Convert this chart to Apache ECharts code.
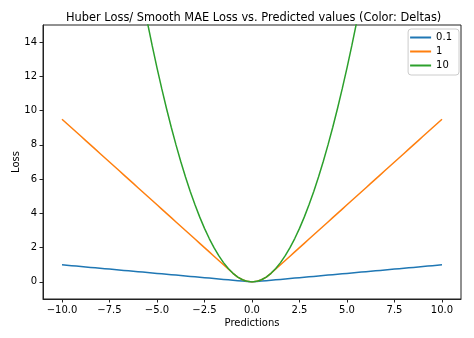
<!DOCTYPE html>
<html><head><meta charset="utf-8">
<script src="https://cdn.jsdelivr.net/npm/echarts@6/dist/echarts.min.js"></script>
<style>html,body{margin:0;padding:0;background:#fff}#c{width:474px;height:338px}</style>
</head><body><div id="c"></div>
<script>
const predictions = [-10,-9.75,-9.5,-9.25,-9,-8.75,-8.5,-8.25,-8,-7.75,-7.5,-7.25,-7,-6.75,-6.5,-6.25,-6,-5.75,-5.5,-5.25,-5,-4.75,-4.5,-4.25,-4,-3.75,-3.5,-3.25,-3,-2.75,-2.5,-2.25,-2,-1.75,-1.5,-1.25,-1,-0.75,-0.5,-0.25,0,0.25,0.5,0.75,1,1.25,1.5,1.75,2,2.25,2.5,2.75,3,3.25,3.5,3.75,4,4.25,4.5,4.75,5,5.25,5.5,5.75,6,6.25,6.5,6.75,7,7.25,7.5,7.75,8,8.25,8.5,8.75,9,9.25,9.5,9.75,10];
const lossDelta01 = [0.995,0.970,0.945,0.920,0.895,0.870,0.845,0.820,0.795,0.770,0.745,0.720,0.695,0.670,0.645,0.620,0.595,0.570,0.545,0.520,0.495,0.470,0.445,0.420,0.395,0.370,0.345,0.320,0.295,0.270,0.245,0.220,0.195,0.170,0.145,0.120,0.095,0.070,0.045,0.020,0,0.020,0.045,0.070,0.095,0.120,0.145,0.170,0.195,0.220,0.245,0.270,0.295,0.320,0.345,0.370,0.395,0.420,0.445,0.470,0.495,0.520,0.545,0.570,0.595,0.620,0.645,0.670,0.695,0.720,0.745,0.770,0.795,0.820,0.845,0.870,0.895,0.920,0.945,0.970,0.995];
const lossDelta1 = [9.5,9.25,9,8.75,8.5,8.25,8,7.75,7.5,7.25,7,6.75,6.5,6.25,6,5.75,5.5,5.25,5,4.75,4.5,4.25,4,3.75,3.5,3.25,3,2.75,2.5,2.25,2,1.75,1.5,1.25,1,0.75,0.5,0.281,0.125,0.031,0,0.031,0.125,0.281,0.5,0.75,1,1.25,1.5,1.75,2,2.25,2.5,2.75,3,3.25,3.5,3.75,4,4.25,4.5,4.75,5,5.25,5.5,5.75,6,6.25,6.5,6.75,7,7.25,7.5,7.75,8,8.25,8.5,8.75,9,9.25,9.5];
const lossDelta10 = [50,47.531,45.125,42.781,40.5,38.281,36.125,34.031,32,30.031,28.125,26.281,24.5,22.781,21.125,19.531,18,16.531,15.125,13.781,12.5,11.281,10.125,9.031,8,7.031,6.125,5.281,4.5,3.781,3.125,2.531,2,1.531,1.125,0.781,0.5,0.281,0.125,0.031,0,0.031,0.125,0.281,0.5,0.781,1.125,1.531,2,2.531,3.125,3.781,4.5,5.281,6.125,7.031,8,9.031,10.125,11.281,12.5,13.781,15.125,16.531,18,19.531,21.125,22.781,24.5,26.281,28.125,30.031,32,34.031,36.125,38.281,40.5,42.781,45.125,47.531,50];
const seriesNames = ['0.1','1','10'];
const xTicks = [-10,-7.5,-5,-2.5,0,2.5,5,7.5,10];
const yTicks = [0,2,4,6,8,10,12,14];
const colors = ['#1f77b4','#ff7f0e','#2ca02c'];

const font = 'DejaVu Sans';
const fmt = (v, d) => v.toFixed(d).replace('-', '\u2212');
const toPts = ys => predictions.map((x, i) => [x, ys[i]]);
const chart = echarts.init(document.getElementById('c'), null, {renderer: 'canvas'});
chart.setOption({
  animation: false,
  backgroundColor: '#fff',
  color: colors,
  title: {
    text: 'Huber Loss/ Smooth MAE Loss vs. Predicted values (Color: Deltas)',
    left: 61, top: 8,
    textStyle: {fontFamily: font, fontSize: 11.4, fontWeight: 'normal', color: '#000'}
  },
  legend: {
    orient: 'vertical', right: 15, top: 29,
    data: seriesNames.map(n => ({name: n, icon: 'rect'})),
    itemWidth: 21, itemHeight: 2, itemGap: 3,
    borderColor: '#ccc', borderWidth: 1, borderRadius: 3,
    padding: [3, 7, 4, 2],
    textStyle: {fontFamily: font, fontSize: 10, lineHeight: 11, color: '#000'}
  },
  grid: {left: 43, right: 13, top: 25, bottom: 39, show: true, borderColor: '#222', borderWidth: 1, containLabel: false, outerBoundsMode: 'none'},
  xAxis: {
    type: 'value', min: -11, max: 11,
    name: 'Predictions', nameLocation: 'middle', nameGap: 19, nameMoveOverlap: false,
    nameTextStyle: {fontFamily: font, fontSize: 10, color: '#000'},
    axisLine: {show: true, onZero: false, lineStyle: {color: '#222'}},
    axisTick: {show: true, length: 3.5, customValues: xTicks, lineStyle: {color: '#222'}},
    axisLabel: {customValues: xTicks, formatter: v => fmt(v, 1), fontFamily: font, fontSize: 10, color: '#000', margin: 6},
    splitLine: {show: false}
  },
  yAxis: {
    type: 'value', min: -1, max: 15,
    name: 'Loss', nameLocation: 'middle', nameGap: 22, nameMoveOverlap: false,
    nameTextStyle: {fontFamily: font, fontSize: 10, color: '#000'},
    axisLine: {show: true, onZero: false, lineStyle: {color: '#222'}},
    axisTick: {show: true, length: 3.5, customValues: yTicks, lineStyle: {color: '#222'}},
    axisLabel: {customValues: yTicks, formatter: v => fmt(v, 0), fontFamily: font, fontSize: 10, color: '#000', margin: 6},
    splitLine: {show: false}
  },
  series: [lossDelta01, lossDelta1, lossDelta10].map((ys, i) => ({
    name: seriesNames[i], type: 'line', data: toPts(ys),
    symbol: 'none', clip: true, lineStyle: {width: 1.5, color: colors[i]}
  }))
});
</script></body></html>
